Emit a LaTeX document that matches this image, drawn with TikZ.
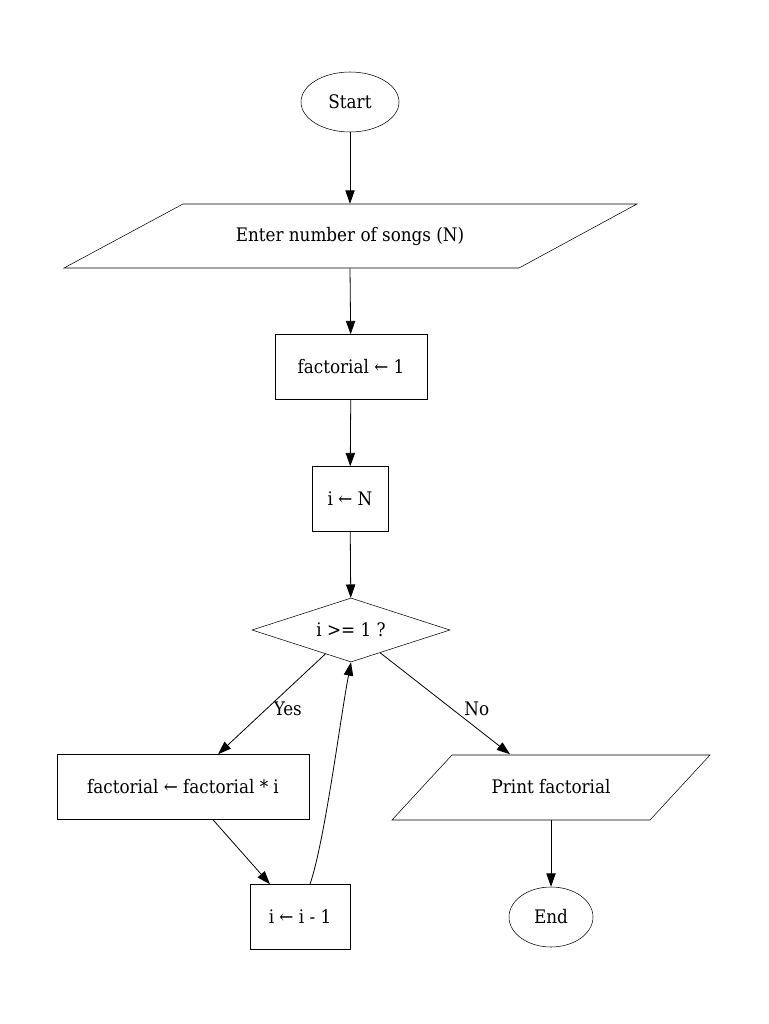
\documentclass[tikz,border=0pt]{standalone}
\usepackage{fontspec}
\setmainfont{DejaVu Serif Condensed}
\usetikzlibrary{shapes.geometric,arrows.meta}
\begin{document}
\begin{tikzpicture}[x=0.75pt,y=-0.75pt,font=\fontsize{14}{16}\selectfont,
  box/.style={draw,thin,inner sep=0pt},
  arr/.style={-{Triangle[length=10pt,width=7pt]},semithick},
  lbl/.style={font=\fontsize{14}{16}\selectfont}]
\useasboundingbox (0,0) rectangle (768,1024);
\node[box,ellipse,minimum width=73.5pt,minimum height=45pt] (start) at (350,102) {Start};
\node[minimum width=300pt,minimum height=48pt,inner sep=0pt] (enter) at (350,236) {Enter number of songs (N)};
\draw[thin] (183,204) -- (637,204) -- (519,268) -- (64,268) -- cycle;
\node[box,minimum width=114pt,minimum height=48.75pt] (f1) at (351,367) {factorial ← 1};
\node[box,minimum width=57pt,minimum height=48.75pt] (iN) at (350,499) {i ← N};
\node[box,diamond,aspect=3.1,minimum width=148.5pt,minimum height=48pt] (cond) at (351,630) {i >= 1 ?};
\node[box,minimum width=189pt,minimum height=48.75pt] (fm) at (183,787) {factorial ← factorial * i};
\node[box,minimum width=75pt,minimum height=48.75pt] (idec) at (300,917) {i ← i - 1};
\node[minimum width=180pt,minimum height=48.75pt,inner sep=0pt] (pr) at (551,787) {Print factorial};
\draw[thin] (452,755) -- (710,755) -- (650,820) -- (392,820) -- cycle;
\node[box,ellipse,minimum width=63pt,minimum height=45pt] (end) at (551,917) {End};
\draw[arr] (start) -- (enter.north);
\draw[arr] (enter.south) -- (f1);
\draw[arr] (f1) -- (iN);
\draw[arr] (iN) -- (cond);
\draw[arr] (cond) -- node[lbl,pos=0.55,right=2pt] {Yes} (fm.north -| 218,0);
\draw[arr] (cond) -- node[lbl,pos=0.55,right=6pt] {No} (pr.north -| 510,0);
\draw[arr] (fm.south -| 213,0) -- (idec.north -| 270,0);
\draw[arr] (idec.north -| 310,0) .. controls (325,840) and (340,720) .. (cond.south);
\draw[arr] (pr.south) -- (end);
\end{tikzpicture}
\end{document}
